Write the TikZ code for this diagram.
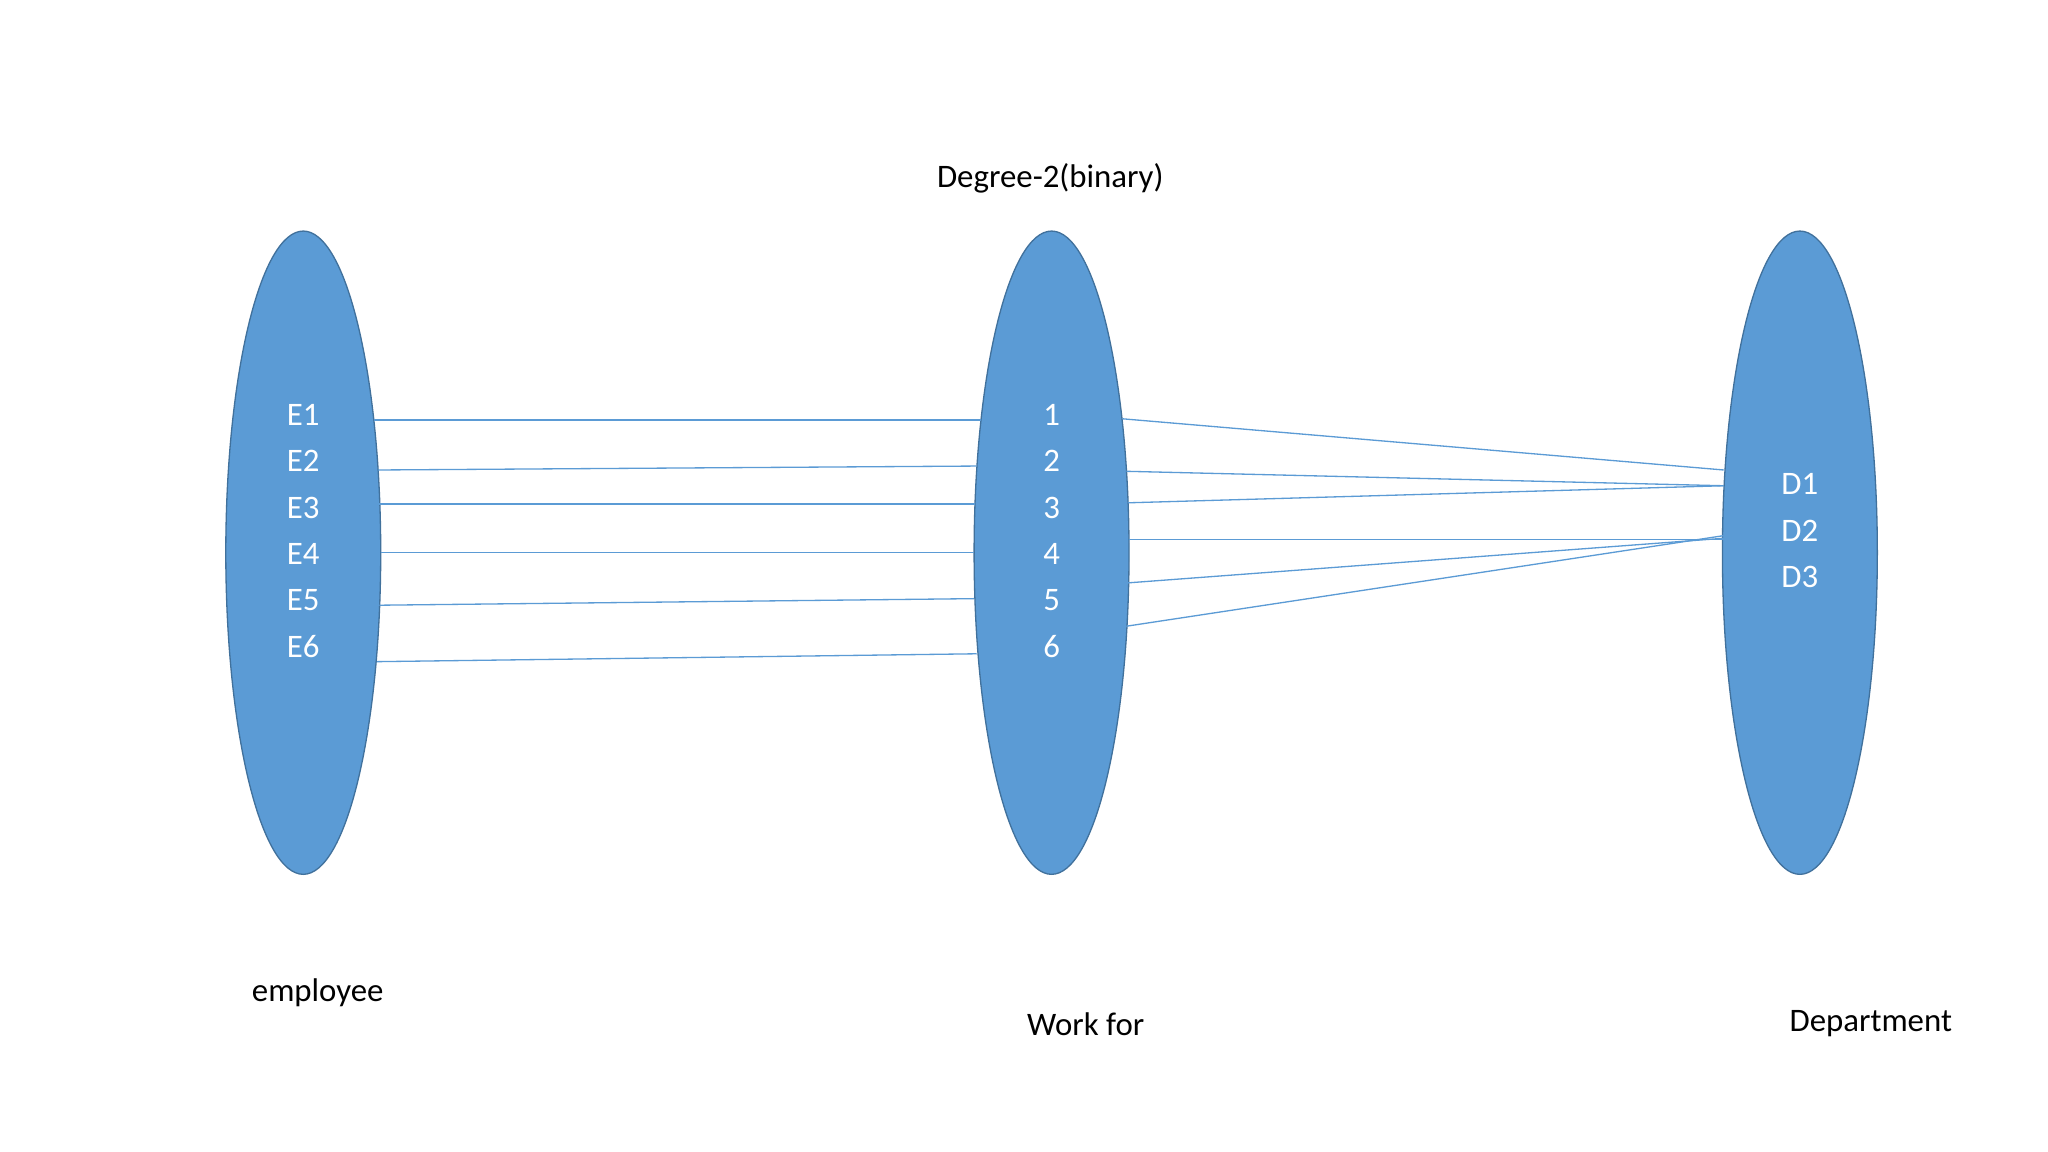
\documentclass[tikz,border=0pt]{standalone}
\usepackage{fontspec}
\setmainfont{Carlito}
\usetikzlibrary{shapes.geometric}
\definecolor{fillb}{HTML}{5B9BD5}
\definecolor{edgeb}{HTML}{41719C}
\begin{document}
\begin{tikzpicture}[x=0.5pt,y=-0.5pt,
  setell/.style={draw=edgeb,fill=fillb,ellipse,minimum width=59pt,minimum height=245pt,inner sep=0pt,line width=0.5pt},
  wt/.style={text=white,font=\fontsize{12.5}{15}\selectfont,align=center},
  bt/.style={text=black,font=\fontsize{12.5}{15}\selectfont},
  ln/.style={draw=fillb,line width=0.5pt}]
\useasboundingbox (0,0) rectangle (1560,877.5);
\path[fill=white] (0,0) rectangle (1560,877.5);
\node[setell] (emp) at (231,421) {};
\node[setell] (wf) at (801,421) {};
\node[setell] (dep) at (1371,421) {};
\foreach \t [count=\i] in {E1,E2,E3,E4,E5,E6}
  \node[wt] (e\i) at (231,{316+35.3*(\i-1)}) {\t};
\foreach \t [count=\i] in {1,2,3,4,5,6}
  \node[wt] (w\i) at (801,{316+35.3*(\i-1)}) {\t};
\foreach \t [count=\i] in {D1,D2,D3}
  \node[wt] (d\i) at (1371,{369+35.3*(\i-1)}) {\t};
\node[bt] (deg) at (800,136) {Degree-2(binary)};
\node[bt] (lemp) at (242,756) {employee};
\node[bt] (lwf) at (827,780) {Work for};
\node[bt] (ldep) at (1425,780) {Department};
% endpoints
\coordinate (a1) at (285,320); \coordinate (b1) at (747,320);
\coordinate (a2) at (288,358); \coordinate (b2) at (744,355);
\coordinate (a3) at (289,384); \coordinate (b3) at (743,384);
\coordinate (a4) at (290,421); \coordinate (b4) at (742,421);
\coordinate (a5) at (289,461); \coordinate (b5) at (742,456);
\coordinate (a6) at (287,504); \coordinate (b6) at (744,498);
\coordinate (c1) at (855,319); \coordinate (f1) at (1313,358);
\coordinate (c2) at (858,359); \coordinate (f2) at (1313,370);
\coordinate (c3) at (859,383); \coordinate (f3) at (1313,370);
\coordinate (c4) at (860,411); \coordinate (f4) at (1313,411);
\coordinate (c5) at (859,444); \coordinate (f5) at (1313,410);
\coordinate (c6) at (858,477); \coordinate (f6) at (1313,408);
\foreach \i in {1,...,6} {\draw[ln] (a\i) -- (b\i); \draw[ln] (c\i) -- (f\i);}
\end{tikzpicture}
\end{document}
